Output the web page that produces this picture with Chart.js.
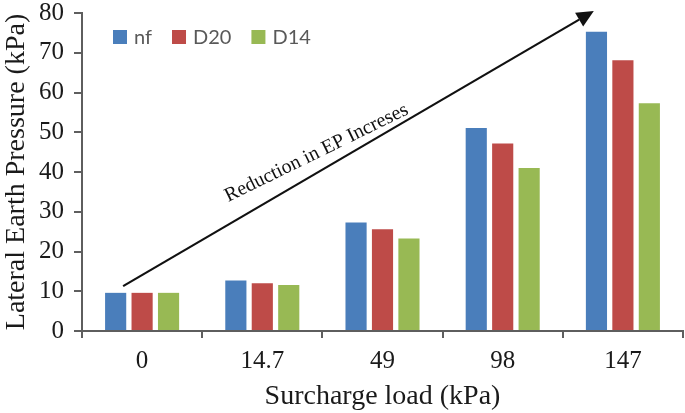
<!DOCTYPE html>
<html><head><meta charset="utf-8">
<script src="https://cdn.jsdelivr.net/npm/chart.js@4/dist/chart.umd.min.js"></script>
<style>html,body{margin:0;padding:0;background:#fff}#wrap{width:685px;height:413px}</style>
</head><body><div id="wrap"><canvas id="c" width="685" height="413"></canvas></div>
<script>
const categories = ['0', '14.7', '49', '98', '147'];
const nf  = [9.6, 12.7, 27.3, 51.1, 75.3];
const d20 = [9.6, 12.0, 25.6, 47.2, 68.1];
const d14 = [9.6, 11.6, 23.3, 41.0, 57.3];
const seriesNames = ['nf', 'D20', 'D14'];
const seriesColors = ['#4A7EBB', '#BE4B48', '#98B954'];
const yMin = 0, yMax = 80, yStep = 10;
const xTitle = 'Surcharge load (kPa)';
const yTitle = 'Lateral Earth Pressure (kPa)';
const arrowLabel = 'Reduction in EP Increses';
// arrow annotation in (category index, value) coordinates
const arrowFrom = [-0.158, 11.3];
const arrowTo = [3.758, 80.5];
const labelAt = [1.471, 43.6];

const SERIF = '"Liberation Serif", "Times New Roman", serif';
const AXIS = '#5e5e5e';

const legendPlugin = {
  id: 'legendBox',
  afterDraw(chart) {
    const ctx = chart.ctx, a = chart.chartArea;
    ctx.save();
    ctx.font = '20px Lato, "Open Sans", sans-serif';
    ctx.textBaseline = 'middle';
    let x = a.left + 31;
    const y = a.top + 17;
    chart.data.datasets.forEach(ds => {
      ctx.fillStyle = ds.backgroundColor;
      ctx.fillRect(x, y, 14, 14);
      x += 21;
      ctx.fillStyle = '#595959';
      ctx.fillText(ds.label, x, y + 8);
      x += ctx.measureText(ds.label).width + 20;
    });
    ctx.restore();
  }
};

const arrowPlugin = {
  id: 'arrowNote',
  afterDatasetsDraw(chart) {
    const ctx = chart.ctx, xs = chart.scales.x, ys = chart.scales.y;
    const p0 = xs.getPixelForValue(0), step = xs.getPixelForValue(1) - p0;
    const px = i => p0 + i * step;
    const x1 = px(arrowFrom[0]), y1 = ys.getPixelForValue(arrowFrom[1]);
    const x2 = px(arrowTo[0]), y2 = ys.getPixelForValue(arrowTo[1]);
    const ang = Math.atan2(y2 - y1, x2 - x1);
    const hl = 17, hw = 8;
    ctx.save();
    ctx.strokeStyle = '#111'; ctx.fillStyle = '#111'; ctx.lineWidth = 2.2;
    const bx = x2 - hl * Math.cos(ang), by = y2 - hl * Math.sin(ang);
    ctx.beginPath(); ctx.moveTo(x1, y1); ctx.lineTo(bx, by); ctx.stroke();
    ctx.beginPath();
    ctx.moveTo(x2, y2);
    ctx.lineTo(bx + hw * Math.sin(ang), by - hw * Math.cos(ang));
    ctx.lineTo(bx - hw * Math.sin(ang), by + hw * Math.cos(ang));
    ctx.closePath(); ctx.fill();
    const tx = px(labelAt[0]), ty = ys.getPixelForValue(labelAt[1]);
    ctx.translate(tx, ty);
    ctx.rotate(-26 * Math.PI / 180);
    ctx.font = '20px ' + SERIF;
    ctx.textAlign = 'center'; ctx.textBaseline = 'alphabetic';
    ctx.fillText(arrowLabel, 0, 0);
    ctx.restore();
  }
};

const seriesValues = [nf, d20, d14];
new Chart(document.getElementById('c'), {
  type: 'bar',
  data: {
    labels: categories,
    datasets: seriesNames.map((n, i) => ({
      label: n, data: seriesValues[i], backgroundColor: seriesColors[i],
      borderWidth: 0, barPercentage: 0.8, categoryPercentage: 0.66
    }))
  },
  options: {
    responsive: false, animation: false, devicePixelRatio: 1,
    layout: { padding: { top: 13, right: 2, left: 0, bottom: 0 } },
    plugins: { legend: { display: false }, tooltip: { enabled: false } },
    scales: {
      x: {
        offset: true,
        grid: { drawOnChartArea: false, drawTicks: true, tickLength: 7, color: AXIS, lineWidth: 2, offset: true },
        border: { color: AXIS, width: 2 },
        ticks: { font: { family: SERIF, size: 25 }, color: '#1a1a1a', padding: 8 },
        title: { display: true, text: xTitle, font: { family: SERIF, size: 28 }, color: '#1a1a1a', padding: { top: 0, bottom: 0 } },
        afterFit: s => { s.height = 82; s.paddingLeft = 0; s.paddingRight = 0; }
      },
      y: {
        min: yMin, max: yMax,
        ticks: { stepSize: yStep, font: { family: SERIF, size: 25 }, color: '#1a1a1a', padding: 10 },
        grid: { drawOnChartArea: false, drawTicks: true, tickLength: 8, color: AXIS, lineWidth: 2 },
        border: { color: AXIS, width: 2 },
        title: { display: true, text: yTitle, font: { family: SERIF, size: 28 }, color: '#1a1a1a', padding: { top: 0, bottom: 0 } },
        afterFit: s => { s.width = 82; s.paddingTop = 0; s.paddingBottom = 0; }
      }
    }
  },
  plugins: [legendPlugin, arrowPlugin]
});
</script></body></html>
